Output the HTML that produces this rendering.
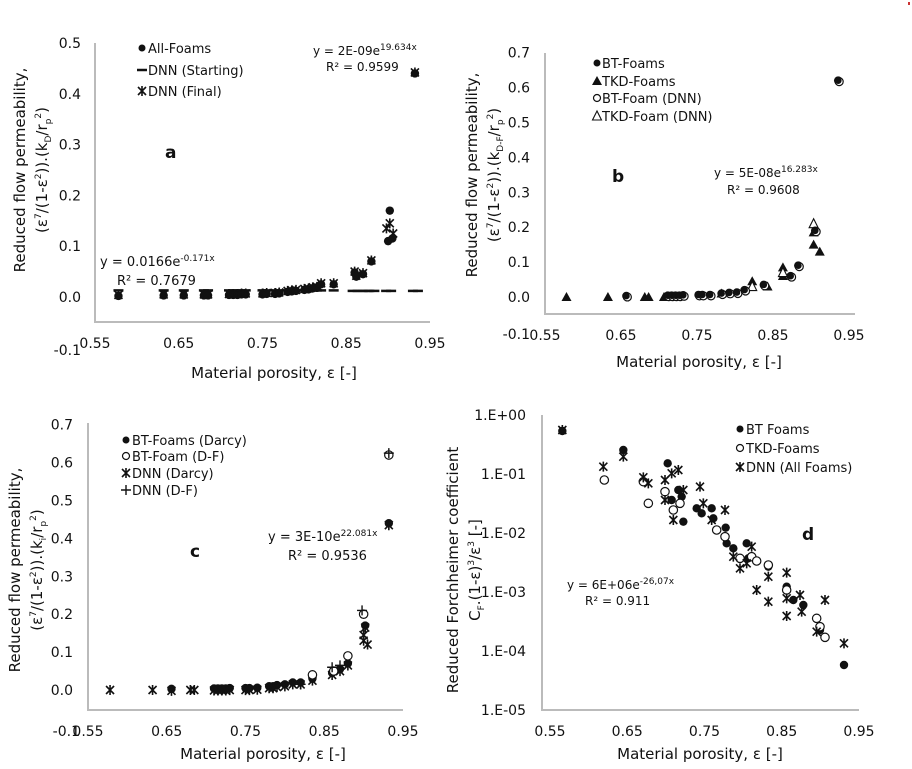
<!DOCTYPE html>
<html><head><meta charset="utf-8"><style>
body{margin:0;background:#fff;}
svg{display:block;font-family:"DejaVu Sans","Liberation Sans",sans-serif;}
text{fill:#111;}
</style></head><body>
<svg id="s" width="912" height="769" viewBox="0 0 912 769" xmlns="http://www.w3.org/2000/svg"></svg>
<script>
const S=document.getElementById('s');let H='';
function add(s){H+=s;}
function dot(x,y,r){add(`<circle cx="${x}" cy="${y}" r="${r||4.2}" fill="#111"/>`);}
function oc(x,y,r){add(`<circle cx="${x}" cy="${y}" r="${r||4.2}" fill="#fff" stroke="#111" stroke-width="1.2"/>`);}
function tri(x,y){add(`<polygon points="${x},${y-5} ${x-5},${y+4} ${x+5},${y+4}" fill="#111"/>`);}
function otri(x,y){add(`<polygon points="${x},${y-5} ${x-4.5},${y+4} ${x+4.5},${y+4}" fill="#fff" stroke="#111" stroke-width="1.1"/>`);}
function star(x,y){add(`<path d="M${x-4},${y-4}L${x+4},${y+4}M${x-4},${y+4}L${x+4},${y-4}M${x},${y-5}L${x},${y+5}" stroke="#111" stroke-width="1.6"/>`);}
function plus(x,y){add(`<path d="M${x-5},${y}L${x+5},${y}M${x},${y-5}L${x},${y+5}" stroke="#111" stroke-width="1.4"/>`);}
function dash(x,y){add(`<path d="M${x-5},${y}L${x+5},${y}" stroke="#111" stroke-width="2.5"/>`);}
function t(x,y,s,o){o=o||{};add(`<text x="${x}" y="${y}" font-size="${o.fs||14}" text-anchor="${o.a||'start'}" ${o.b?'font-weight="bold"':''} ${o.tr?`transform="${o.tr}"`:''}>${s}</text>`);}
function axes(x0,x1,ytop,yax){add(`<path d="M${x0},${ytop}V${yax}H${x1}" stroke="#bbb" stroke-width="2" fill="none"/>`);}
function xlab(x0,x1,y){const L=['0.55','0.65','0.75','0.85','0.95'];L.forEach((l,i)=>t(x0+(x1-x0)*i/4,y,l,{a:'middle'}));}
// Panel a
let A={x0:95,x1:430,y0:297,dy:50.8};
function pa(x,y){return [A.x0+(x-0.55)/0.4*(A.x1-A.x0),A.y0-y*10*A.dy];}
axes(95,430,43,322);
[0.5,0.4,0.3,0.2,0.1,0.0].forEach((v,i)=>t(81,A.y0-v*10*A.dy+5,v.toFixed(1),{a:'end'}));
t(81,355,'-0.1',{a:'end'});xlab(95,430,348);
t(274,378,'Material porosity, ε [-]',{a:'middle',fs:15});
t(0,0,'Reduced flow permeability,',{a:'middle',fs:15,tr:'translate(25,170) rotate(-90)'});
t(0,0,'(ε<tspan font-size="9" dy="-6">7</tspan><tspan dy="6">/(1-ε</tspan><tspan font-size="9" dy="-6">2</tspan><tspan dy="6">)).(k</tspan><tspan font-size="9" dy="4">D</tspan><tspan dy="-4">/r</tspan><tspan font-size="9" dy="4">p</tspan><tspan font-size="9" dy="-10">2</tspan><tspan dy="6">)</tspan>',{a:'middle',fs:15,tr:'translate(47,170) rotate(-90)'});
dot(142,48,3.5);t(148,53,'All-Foams',{fs:13});dash(142,70);t(148,75,'DNN (Starting)',{fs:13});star(142,91);t(148,96,'DNN (Final)',{fs:13});
t(165,158,'a',{b:1,fs:17});
t(313,55,'y = 2E-09e<tspan font-size="9" dy="-5">19.634x</tspan>',{fs:12});t(326,71,'R² = 0.9599',{fs:12});
t(100,266,'y = 0.0166e<tspan font-size="9" dy="-5">-0.171x</tspan>',{fs:13});t(117,285,'R² = 0.7679',{fs:13});
const aD=[[.578,.002],[.632,.003],[.656,.003],[.68,.003],[.685,.003],[.71,.004],[.715,.004],[.72,.004],[.725,.005],[.73,.005],[.75,.005],[.755,.006],[.765,.006],[.77,.007],[.78,.01],[.785,.011],[.79,.012],[.80,.014],[.805,.015],[.81,.017],[.815,.018],[.82,.025],[.835,.025],[.86,.048],[.862,.04],[.87,.045],[.88,.07],[.9,.11],[.902,.17],[.905,.115],[.932,.44]];
aD.forEach(d=>{let [x,y]=pa(d[0],d[1]);if(d[0]<.85){let [a,b]=pa(d[0],.013);dash(a,b);}dot(x,y);if(!(d[0]>.89&&d[0]<.92))star(x,y-1);});
[[.898,.135],[.902,.145],[.906,.125]].forEach(d=>{let[x,y]=pa(...d);star(x,y);});
[.86,.872,.88,.9,.932].forEach(x=>{let[a,b]=pa(x,.012);dash(a-2,b);dash(a+3,b);});
// Panel b
let B={x0:545,x1:852,y0:297,dy:34.9};
function pb(x,y){return [B.x0+(x-0.55)/0.4*(B.x1-B.x0),B.y0-y*10*B.dy];}
axes(545,855,53,314);
[0.7,0.6,0.5,0.4,0.3,0.2,0.1,0.0].forEach(v=>t(530,B.y0-v*10*B.dy+5,v.toFixed(1),{a:'end'}));
t(530,339,'-0.1',{a:'end'});xlab(545,849,340);
t(699,367,'Material porosity, ε [-]',{a:'middle',fs:15});
t(0,0,'Reduced flow permeability,',{a:'middle',fs:15,tr:'translate(477,175) rotate(-90)'});
t(0,0,'(ε<tspan font-size="9" dy="-6">7</tspan><tspan dy="6">/(1-ε</tspan><tspan font-size="9" dy="-6">2</tspan><tspan dy="6">)).(k</tspan><tspan font-size="9" dy="4">D-F</tspan><tspan dy="-4">/r</tspan><tspan font-size="9" dy="4">p</tspan><tspan font-size="9" dy="-10">2</tspan><tspan dy="6">)</tspan>',{a:'middle',fs:15,tr:'translate(499,175) rotate(-90)'});
dot(597,63,3.5);t(602,68,'BT-Foams',{fs:13});tri(597,81);t(602,86,'TKD-Foams',{fs:13});oc(597,98,3.5);t(602,103,'BT-Foam (DNN)',{fs:13});otri(597,116);t(602,121,'TKD-Foam (DNN)',{fs:13});
t(612,182,'b',{b:1,fs:17});
t(714,177,'y = 5E-08e<tspan font-size="9" dy="-5">16.283x</tspan>',{fs:12});t(727,194,'R² = 0.9608',{fs:12});
[[.578,0],[.632,0],[.68,0],[.685,0],[.705,0],[.78,.01],[.82,.045],[.84,.03],[.86,.085],[.86,.06],[.9,.185],[.9,.15],[.908,.13]].forEach(d=>{let[x,y]=pb(...d);tri(x,y);});
[[.82,.03],[.86,.07],[.9,.21]].forEach(d=>{let[x,y]=pb(...d);otri(x,y);});
[[.656,.003],[.71,.004],[.715,.004],[.72,.004],[.725,.004],[.73,.005],[.75,.006],[.755,.006],[.765,.006],[.78,.01],[.79,.012],[.8,.013],[.81,.02],[.835,.035],[.87,.06],[.88,.09],[.902,.19],[.932,.62]].forEach(d=>{let[x,y]=pb(...d);dot(x,y);oc(x+1,y+1,4);dot(x,y,3.4);});
// Panel c
let C={x0:88,x1:403,y0:690,dy:37.9};
function pc(x,y){return [C.x0+(x-0.55)/0.4*(C.x1-C.x0),C.y0-y*10*C.dy];}
axes(88,403,423,710);
[0.7,0.6,0.5,0.4,0.3,0.2,0.1,0.0].forEach(v=>t(73,C.y0-v*10*C.dy+5,v.toFixed(1),{a:'end'}));
t(80,736,'-0.1',{a:'end'});xlab(88,403,736);
t(263,759,'Material porosity, ε [-]',{a:'middle',fs:15});
t(0,0,'Reduced flow permeability,',{a:'middle',fs:15,tr:'translate(20,570) rotate(-90)'});
t(0,0,'(ε<tspan font-size="9" dy="-6">7</tspan><tspan dy="6">/(1-ε</tspan><tspan font-size="9" dy="-6">2</tspan><tspan dy="6">)).(k</tspan><tspan font-size="9" dy="4">i</tspan><tspan dy="-4">/r</tspan><tspan font-size="9" dy="4">p</tspan><tspan font-size="9" dy="-10">2</tspan><tspan dy="6">)</tspan>',{a:'middle',fs:15,tr:'translate(42,570) rotate(-90)'});
dot(126,440,3.5);t(132,445,'BT-Foams (Darcy)',{fs:13});oc(126,456,3.5);t(132,461,'BT-Foam (D-F)',{fs:13});star(126,473);t(132,478,'DNN (Darcy)',{fs:13});plus(126,490);t(132,495,'DNN (D-F)',{fs:13});
t(190,557,'c',{b:1,fs:17});
t(268,541,'y = 3E-10e<tspan font-size="9" dy="-5">22.081x</tspan>',{fs:13});t(288,560,'R² = 0.9536',{fs:13});
[[.578,0],[.632,0],[.68,0],[.685,0]].forEach(d=>{let[x,y]=pc(...d);star(x,y);});
[[.656,.003],[.71,.004],[.715,.004],[.72,.004],[.725,.004],[.73,.005],[.75,.005],[.755,.005],[.765,.006],[.78,.01],[.785,.01],[.79,.013],[.8,.015],[.81,.02],[.82,.02],[.835,.03],[.86,.045],[.87,.055],[.88,.07],[.902,.17],[.932,.44]].forEach(d=>{let[x,y]=pc(...d);dot(x,y);star(x,y+2);});
[[.835,.04],[.862,.05],[.88,.09],[.9,.2],[.932,.62]].forEach(d=>{let[x,y]=pc(...d);oc(x,y);});
[[.82,.015],[.86,.06],[.87,.065],[.898,.21],[.932,.625]].forEach(d=>{let[x,y]=pc(...d);plus(x,y);});
[[.9,.13],[.905,.12],[.9,.145]].forEach(d=>{let[x,y]=pc(...d);star(x,y);});
// Panel d
axes(542,859,415,710);
['1.E+00','1.E-01','1.E-02','1.E-03','1.E-04','1.E-05'].forEach((l,i)=>t(526,415+i*59+5,l,{a:'end'}));
xlab(550,859,736);
t(700,759,'Material porosity, ε [-]',{a:'middle',fs:15});
t(0,0,'Reduced Forchheimer coefficient',{a:'middle',fs:15,tr:'translate(458,570) rotate(-90)'});
t(0,0,'C<tspan font-size="9" dy="4">F</tspan><tspan dy="-4">.(1-ε)</tspan><tspan font-size="9" dy="-6">3</tspan><tspan dy="6">/ε</tspan><tspan font-size="9" dy="-6">3</tspan><tspan dy="6"> [-]</tspan>',{a:'middle',fs:15,tr:'translate(480,570) rotate(-90)'});
dot(740,429,3.5);t(746,434,'BT Foams',{fs:13});oc(740,448,3.5);t(746,453,'TKD-Foams',{fs:13});star(740,467);t(746,472,'DNN (All Foams)',{fs:13});
t(802,540,'d',{b:1,fs:17});
t(567,589,'y = 6E+06e<tspan font-size="9" dy="-5">-26,07x</tspan>',{fs:12});t(585,605,'R² = 0.911',{fs:12});
const P=(a,f)=>a.forEach(p=>f(p[0]/3+440,p[1]/3+400));
P([[367,93],[550,150],[683,190],[695,300],[715,270],[725,290],[730,365],[770,325],[785,340],[815,325],[820,355],[857,383],[860,430],[880,445],[920,430],[925,475],[985,500],[1040,560],[1060,600],[1090,615],[1140,690],[1212,795]],dot);
P([[493,240],[610,245],[625,310],[675,275],[700,330],[720,310],[830,390],[855,410],[900,475],[935,470],[950,483],[985,495],[1040,570],[1130,655],[1140,680],[1155,712]],oc);
P([[367,90],[490,200],[550,170],[610,232],[625,250],[675,240],[695,220],[715,210],[730,270],[675,300],[700,360],[780,260],[790,310],[815,360],[855,330],[880,470],[900,505],[920,490],[935,440],[950,570],[985,605],[985,530],[1040,518],[1040,595],[1040,648],[1080,585],[1085,635],[1155,600],[1130,695],[1212,730]],star);
add('<rect x="908" y="2" width="2" height="3" fill="#c33"/>');
S.innerHTML=H;
</script>
</body></html>
